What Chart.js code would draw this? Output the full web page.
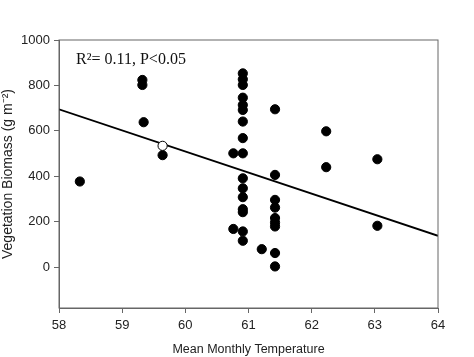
<!DOCTYPE html>
<html>
<head>
<meta charset="utf-8">
<script src="https://cdn.jsdelivr.net/npm/chart.js@4/dist/chart.umd.min.js"></script>
<style>
html,body{margin:0;padding:0;background:#fff;}
#wrap{width:474px;height:357px;position:relative;}
</style>
</head>
<body>
<div id="wrap"><canvas id="c" width="474" height="357"></canvas></div>
<script>
const xTicks = [58, 59, 60, 61, 62, 63, 64];
const yTicks = [0, 200, 400, 600, 800, 1000];

const tempFilled = [58.33, 59.32, 59.32, 59.34, 59.64, 60.76, 60.76,
  60.91, 60.91, 60.91, 60.91, 60.91, 60.91, 60.91, 60.91, 60.91, 60.91, 60.91, 60.91, 60.91, 60.91, 60.91, 60.91,
  61.21,
  61.42, 61.42, 61.42, 61.42, 61.42, 61.42, 61.42, 61.42, 61.42,
  62.23, 62.23, 63.04, 63.04];
const biomassFilled = [377, 824, 802, 638, 493, 501, 168,
  853, 827, 802, 746, 714, 692, 641, 568, 501, 391, 347, 308, 255, 242, 157, 116,
  79,
  695, 406, 296, 262, 216, 196, 179, 62, 3,
  598, 440, 475, 182];

const tempOpen = [59.64];
const biomassOpen = [534];

const lineTemp = [58, 64];
const lineBiomass = [695, 138];

const annotation = "R\u00B2= 0.11, P<0.05";

const toPts = (xs, ys) => xs.map((x, i) => ({x: x, y: ys[i]}));

const frame = {
  id: 'frame',
  afterDraw(chart) {
    const {ctx, chartArea: a} = chart;
    ctx.save();
    ctx.strokeStyle = '#666';
    ctx.lineWidth = 1;
    ctx.strokeRect(a.left, a.top, a.right - a.left, a.bottom - a.top);
    ctx.font = '16px "Liberation Serif"';
    ctx.fillStyle = '#111';
    ctx.textBaseline = 'middle';
    ctx.textAlign = 'left';
    const xs = chart.scales.x, ys = chart.scales.y;
    ctx.fillText(annotation, xs.getPixelForValue(58.27), ys.getPixelForValue(912));
    ctx.restore();
  }
};

new Chart(document.getElementById('c'), {
  type: 'scatter',
  data: {
    datasets: [
      {
        type: 'line',
        data: toPts(lineTemp, lineBiomass),
        borderColor: '#000',
        borderWidth: 1.8,
        pointRadius: 0,
        fill: false,
        order: 3
      },
      {
        data: toPts(tempFilled, biomassFilled),
        backgroundColor: '#000',
        borderColor: '#000',
        borderWidth: 1,
        pointRadius: 4.6,
        order: 2
      },
      {
        data: toPts(tempOpen, biomassOpen),
        backgroundColor: '#fff',
        borderColor: '#000',
        borderWidth: 1,
        pointRadius: 4.6,
        order: 1
      }
    ]
  },
  options: {
    responsive: false,
    animation: false,
    events: [],
    layout: {padding: {top: 40, right: 36, left: 0, bottom: 0}},
    plugins: {legend: {display: false}, tooltip: {enabled: false}},
    scales: {
      x: {
        type: 'linear',
        min: 58, max: 64,
        afterBuildTicks: s => { s.ticks = xTicks.map(v => ({value: v})); },
        afterFit: s => { s.height = 49; },
        grid: {drawOnChartArea: false, drawTicks: true, tickLength: 5, color: '#666'},
        border: {display: true, color: '#666', width: 1},
        ticks: {color: '#222', font: {family: '"Liberation Sans"', size: 13}, padding: 5, maxRotation: 0,
          callback: v => String(v)},
        title: {display: true, text: 'Mean Monthly Temperature', color: '#222',
          font: {family: '"Liberation Sans"', size: 12.5}, padding: {top: 0, bottom: 0}}
      },
      y: {
        type: 'linear',
        min: -180, max: 1000,
        afterBuildTicks: s => { s.ticks = yTicks.map(v => ({value: v})); },
        afterFit: s => { s.width = 59; },
        grid: {drawOnChartArea: false, drawTicks: true, tickLength: 5, color: '#666'},
        border: {display: true, color: '#666', width: 1},
        ticks: {color: '#222', font: {family: '"Liberation Sans"', size: 13}, padding: 4,
          callback: v => String(v)},
        title: {display: true, text: 'Vegetation Biomass (g m\u207B\u00B2)', color: '#222',
          font: {family: '"Liberation Sans"', size: 14}, padding: {top: 0, bottom: 0}}
      }
    }
  },
  plugins: [frame]
});
</script>
</body>
</html>
